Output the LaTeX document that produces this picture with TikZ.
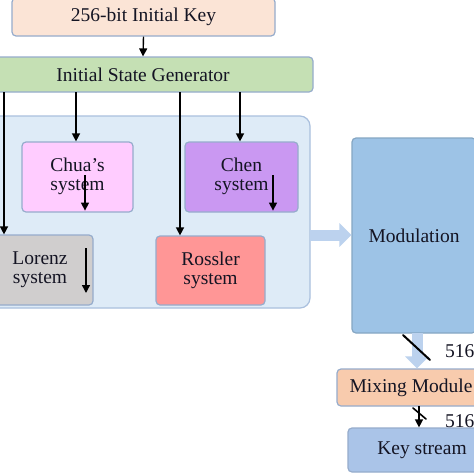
\documentclass[tikz,border=0pt]{standalone}
\usepackage{fontspec}
\setmainfont{Liberation Serif}
\usetikzlibrary{arrows.meta,calc}
\definecolor{keyc}{RGB}{251,228,214}
\definecolor{isgc}{RGB}{197,224,180}
\definecolor{contc}{RGB}{222,235,247}
\definecolor{contb}{RGB}{170,192,222}
\definecolor{chuac}{RGB}{255,204,255}
\definecolor{chenc}{RGB}{202,152,242}
\definecolor{lorc}{RGB}{208,206,206}
\definecolor{rosc}{RGB}{255,150,150}
\definecolor{modc}{RGB}{157,195,230}
\definecolor{mixc}{RGB}{248,203,173}
\definecolor{ksc}{RGB}{170,196,232}
\definecolor{bordc}{RGB}{150,172,204}
\definecolor{blkarr}{RGB}{188,210,238}
\definecolor{txtc}{RGB}{20,20,35}
\newcommand{\twoline}[2]{\raisebox{5pt}{\begin{tabular}{@{}c@{}}#1\\[-2pt]#2\end{tabular}}}
\begin{document}
\begin{tikzpicture}[x=1pt,y=-1pt,
  font=\fontsize{19.5}{21}\selectfont,
  box/.style={draw=bordc, line width=1.2pt, rounded corners=4pt, inner sep=0pt, text=txtc, align=center},
  arr/.style={line width=1.4pt, -{Triangle[length=8pt,width=8pt]}},
  fatarr/.style={draw=blkarr, line width=11pt, -{Triangle[length=12pt,width=23pt]}},
  slash/.style={line width=2pt, line cap=round}]
\useasboundingbox (0,0) rectangle (474,474);
\clip (0,0) rectangle (474,474);
\fill[white] (0,0) rectangle (474,474);

% container
\node[box, fill=contc, draw=contb, rounded corners=10pt, minimum width=340pt, minimum height=192pt] (cont) at (140,212) {};

% top boxes
\node[box, fill=keyc, minimum width=263pt, minimum height=38pt] (key) at (143.5,17) {256-bit Initial Key};
\node[box, fill=isgc, minimum width=340pt, minimum height=35pt] (isg) at (143,74.5) {Initial State Generator};

% chaotic systems
\node[box, fill=chuac, minimum width=111pt, minimum height=70pt] (chua) at (77.5,177) {\twoline{Chua’s}{system}};
\node[box, fill=chenc, minimum width=113pt, minimum height=70pt] (chen) at (241.5,177) {\twoline{Chen}{system}};
\node[box, fill=lorc, minimum width=106pt, minimum height=70pt] (lor) at (40,270) {\twoline{Lorenz}{system}};
\node[box, fill=rosc, minimum width=109pt, minimum height=69pt] (ros) at (210.5,270.5) {\twoline{Rossler}{system}};

% right side
\node[box, fill=modc, draw=modc!85!black, minimum width=124pt, minimum height=195pt] (mod) at (414,235.5) {Modulation};
\node[box, fill=mixc, minimum width=148pt, minimum height=37pt] (mix) at (411,387.5) {Mixing Module};
\node[box, fill=ksc, minimum width=148pt, minimum height=44pt] (ks) at (422,450) {Key stream};

% arrows
\draw[arr] (key.south) -- (isg.north);
\coordinate (s1) at (4,92);
\coordinate (s2) at (76,92);
\coordinate (s3) at (180,92);
\coordinate (s4) at (240,92);
\draw[arr] (s1) -- (s1 |- lor.north);
\draw[arr] (s2) -- (s2 |- chua.north);
\draw[arr] (s3) -- (s3 |- ros.north);
\draw[arr] (s4) -- (s4 |- chen.north);

% small inner arrows
\coordinate (c1) at (85,175);
\coordinate (c2) at (273,175);
\coordinate (c3) at (86,248);
\draw[arr] (c1) -- ($(c1 |- chua.south)+(0,-2)$);
\draw[arr] (c2) -- ($(c2 |- chen.south)+(0,-2)$);
\draw[arr] (c3) -- (86,293);

% fat arrows
\coordinate (fa) at (310,235);
\draw[fatarr] (fa) -- (fa -| mod.west);
\coordinate (fb) at (417,333);
\draw[fatarr] (fb) -- (fb |- mix.north);
\draw[slash] (403,335) -- (430,360);
\node[text=txtc, anchor=west, inner sep=0pt] (l1) at (445,351) {516};

% mixing -> key stream
\coordinate (fc) at (419,406);
\draw[arr] (fc) -- (fc |- ks.north);
\draw[slash, line width=1.6pt] (413,408) -- (426,419);
\node[text=txtc, anchor=west, inner sep=0pt] (l2) at (445,421) {516};
\end{tikzpicture}
\end{document}
